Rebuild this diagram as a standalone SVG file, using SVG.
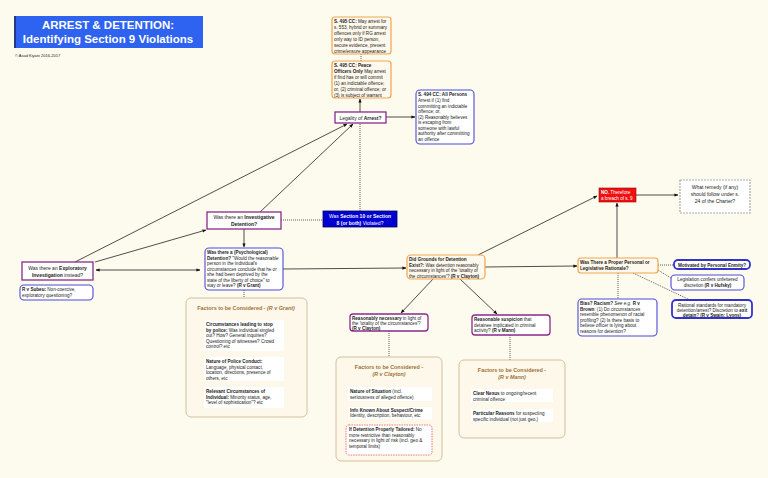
<svg xmlns="http://www.w3.org/2000/svg" width="768" height="478" viewBox="0 0 768 478">
<defs>
<marker id="ah" viewBox="0 0 10 10" refX="9" refY="5" markerWidth="5" markerHeight="5" orient="auto-start-reverse"><path d="M0,1 L10,5 L0,9 z" fill="#111"/></marker>
<style>
text{font-family:"Liberation Sans",Arial,sans-serif;font-size:4.6px;fill:#222}
.b{font-weight:bold}
.i{font-style:italic}
.or{fill:#fff8ec;stroke:#f0a550;stroke-width:1.2}
.pu{fill:#fff;stroke:#8a2a8a;stroke-width:1.3}
.bl{fill:#fff;stroke:#4a4ad8;stroke-width:1.1}
.blt{fill:#fff;stroke:#3333cc;stroke-width:1.8}
.tan{fill:#fdf8ea;stroke:#c8b48a;stroke-width:0.8}
.ftitle{font-size:5.4px;fill:#a07038;font-weight:bold;text-anchor:middle}
.inner{fill:#fff;stroke:none}
.c{text-anchor:middle}
.ln{stroke:#222;stroke-width:0.8;fill:none}
.ar{stroke:#222;stroke-width:0.8;fill:none;marker-end:url(#ah)}
.dt{stroke:#333;stroke-width:0.8;fill:none;stroke-dasharray:1,1}
</style>
</defs>
<rect width="768" height="478" fill="#fdfbee"/>
<g id="title">
<rect x="14" y="16" width="189" height="32" fill="#2e62f0"/>
<rect x="14" y="16" width="2" height="32" fill="#223a80"/>
<text x="108" y="29" class="c b" style="font-size:11.5px;fill:#fff">ARREST &amp; DETENTION:</text>
<text x="108" y="43" class="c b" style="font-size:11.5px;fill:#fff">Identifying Section 9 Violations</text>
<text x="15" y="57" style="font-size:4px">© Asad Kiyani 2016-2017</text>
</g>
<g id="connectors">
<line class="dt" x1="361" y1="54" x2="361" y2="61"/>
<line class="ar" x1="360" y1="112" x2="360" y2="99"/>
<line class="ar" x1="386" y1="117" x2="415" y2="117"/>
<line class="ar" x1="75" y1="262" x2="347" y2="124"/>
<line class="ar" x1="260" y1="212" x2="353" y2="124"/>
<line class="ar" x1="95" y1="262" x2="206" y2="230"/>
<line class="dt" x1="360" y1="211" x2="360" y2="123"/>
<line class="dt" x1="281" y1="220" x2="323" y2="220"/>
<line class="ar" x1="244" y1="229" x2="244" y2="247"/>
<line class="ar" x1="200" y1="270" x2="96" y2="270" style="marker-start:url(#ah)"/>
<line class="ar" x1="283" y1="269" x2="406" y2="268"/>
<line class="dt" x1="244" y1="290" x2="244" y2="298"/>
<line class="ar" x1="433" y1="279" x2="401" y2="313"/>
<line class="ar" x1="460" y1="279" x2="497" y2="314"/>
<line class="ar" x1="478" y1="255" x2="597" y2="196"/>
<line class="ar" x1="485" y1="267" x2="577" y2="266"/>
<line class="ar" x1="617" y1="258" x2="617" y2="203"/>
<line class="ar" x1="636" y1="195" x2="678" y2="195"/>
<line class="dt" x1="658" y1="265" x2="674" y2="265"/>
<line class="dt" x1="658" y1="270" x2="674" y2="280"/>
<line class="dt" x1="633" y1="273" x2="690" y2="300"/>
<line class="dt" x1="618" y1="273" x2="618" y2="299"/>
<line class="dt" x1="389" y1="331" x2="389" y2="357"/>
<line class="dt" x1="510" y1="335" x2="510" y2="360"/>
</g>
<g id="s495">
<rect class="or" x="332" y="17" width="59" height="37" rx="3"/>
<text x="334" y="23"><tspan class="b">S. 495 CC:</tspan> May arrest for</text>
<text x="334" y="29">s. 553, hybrid or summary</text>
<text x="334" y="35">offences only if RG arrest</text>
<text x="334" y="41">only way to ID person,</text>
<text x="334" y="47">secure evidence, prevent</text>
<text x="334" y="53">crime/ensure appearance</text>
</g>
<g id="s495peace">
<rect class="or" x="332" y="61" width="59" height="37" rx="3"/>
<text x="334" y="67" class="b">S. 495 CC: Peace</text>
<text x="334" y="73"><tspan class="b">Officers Only</tspan> May arrest</text>
<text x="334" y="79">if find has or will commit</text>
<text x="334" y="85">(1) an indictable offence;</text>
<text x="334" y="91">or, (2) criminal offence; or</text>
<text x="334" y="97">(3) is subject of warrant</text>
</g>
<g id="legality">
<rect class="pu" x="335" y="112" width="51" height="11"/>
<text x="360.5" y="119.5" class="c" style="font-size:5px">Legality of <tspan class="b">Arrest?</tspan></text>
</g>
<g id="s494">
<rect class="bl" x="416" y="90" width="58" height="54" rx="4"/>
<text x="418" y="96" class="b">S. 494 CC: All Persons</text>
<text x="418" y="102">Arrest if (1) find</text>
<text x="418" y="107.5">committing an indictable</text>
<text x="418" y="113">offence; or,</text>
<text x="418" y="118.5">(2) Reasonably believes</text>
<text x="418" y="124">is escaping from</text>
<text x="418" y="129.5">someone with lawful</text>
<text x="418" y="135">authority after committing</text>
<text x="418" y="140.5">an offence</text>
</g>
<g id="investigative">
<rect class="pu" x="207" y="212" width="74" height="17"/>
<text x="244" y="219" class="c" style="font-size:5px">Was there an <tspan class="b">Investigative</tspan></text>
<text x="244" y="226" class="c b" style="font-size:5px">Detention?</text>
</g>
<g id="section10">
<rect x="323" y="211" width="74" height="16" fill="#0000d0" stroke="#000060" stroke-width="0.8"/>
<text x="360" y="218" class="c" style="font-size:5px;fill:#fff">Was <tspan class="b">Section 10 or Section</tspan></text>
<text x="360" y="225" class="c" style="font-size:5px;fill:#fff"><tspan class="b">8 (or both)</tspan> Violated?</text>
</g>
<g id="exploratory">
<rect class="pu" x="22" y="262" width="71" height="18"/>
<text x="57.5" y="269.5" class="c" style="font-size:5px">Was there an <tspan class="b">Exploratory</tspan></text>
<text x="57.5" y="276.5" class="c" style="font-size:5px"><tspan class="b">Investigation</tspan> instead?</text>
</g>
<g id="subeu">
<rect class="bl" x="20" y="285" width="73" height="15" rx="4"/>
<text x="22" y="291"><tspan class="b">R v Subeu:</tspan> Non-coercive,</text>
<text x="22" y="297">exploratory questioning?</text>
</g>
<g id="psychological">
<rect class="bl" x="205" y="248" width="78" height="42" rx="4"/>
<text x="207" y="254" class="b">Was there a (Psychological)</text>
<text x="207" y="259.5"><tspan class="b">Detention?</tspan> "Would the reasonable</text>
<text x="207" y="265">person in the individual's</text>
<text x="207" y="270.5">circumstances conclude that he or</text>
<text x="207" y="276">she had been deprived by the</text>
<text x="207" y="281.5">state of the liberty of choice" to</text>
<text x="207" y="287">stay or leave? <tspan class="b">(R v Grant)</tspan></text>
</g>
<g id="factorsGrant">
<rect class="tan" x="186" y="298" width="121" height="119" rx="5"/>
<text x="246" y="310" class="ftitle">Factors to be Considered - <tspan class="i">(R v Grant)</tspan></text>
<rect class="inner" x="204" y="320" width="80" height="31"/>
<text x="206" y="326" class="b">Circumstances leading to stop</text>
<text x="206" y="331.5"><tspan class="b">by police:</tspan> Was individual singled</text>
<text x="206" y="337">out? How? General inquiries?</text>
<text x="206" y="342.5">Questioning of witnesses? Crowd</text>
<text x="206" y="348">control? etc</text>
<rect class="inner" x="204" y="357" width="80" height="24"/>
<text x="206" y="363" class="b">Nature of Police Conduct:</text>
<text x="206" y="368.5">Language, physical contact,</text>
<text x="206" y="374">location, directions, presence of</text>
<text x="206" y="379.5">others, etc</text>
<rect class="inner" x="204" y="387" width="80" height="21"/>
<text x="206" y="393" class="b">Relevant Circumstances of</text>
<text x="206" y="398.5"><tspan class="b">Individual:</tspan> Minority status, age,</text>
<text x="206" y="404">"level of sophistication"? etc</text>
</g>
<g id="didgrounds">
<rect class="or" x="407" y="255" width="78" height="24" rx="4"/>
<text x="409" y="261" class="b">Did Grounds for Detention</text>
<text x="409" y="266.5"><tspan class="b">Exist?:</tspan> Was detention reasonably</text>
<text x="409" y="272">necessary in light of the 'totality of</text>
<text x="409" y="277.5">the circumstances'? <tspan class="b">(R v Clayton)</tspan></text>
</g>
<g id="necessary">
<rect class="pu" x="350" y="314" width="78" height="17" rx="3"/>
<text x="352" y="320"><tspan class="b">Reasonably necessary</tspan> in light of</text>
<text x="352" y="325">the 'totality of the circumstances'?</text>
<text x="352" y="330" class="b">(R v Clayton)</text>
</g>
<g id="factorsClayton">
<rect class="tan" x="336" y="357" width="106" height="104" rx="5"/>
<text x="389" y="369" class="ftitle">Factors to be Considered -</text>
<text x="389" y="376" class="ftitle i">(R v Clayton)</text>
<rect class="inner" x="348" y="387" width="84" height="14"/>
<text x="350" y="393"><tspan class="b">Nature of Situation</tspan> (incl.</text>
<text x="350" y="398.5">seriousness of alleged offence)</text>
<rect class="inner" x="348" y="407" width="84" height="12"/>
<text x="350" y="412" class="b">Info Known About Suspect/Crime</text>
<text x="350" y="417">Identity, description, behaviour, etc</text>
<rect x="346" y="425" width="86" height="30" rx="3" fill="#fff" stroke="#e04040" stroke-width="0.7" stroke-dasharray="1.5,1"/>
<text x="349" y="431"><tspan class="b">If Detention Properly Tailored:</tspan> No</text>
<text x="349" y="436.5">more restrictive than reasonably</text>
<text x="349" y="442">necessary in light of risk (incl. geo &amp;</text>
<text x="349" y="447.5">temporal limits)</text>
</g>
<g id="suspicion">
<rect class="pu" x="472" y="315" width="78" height="20" rx="3"/>
<text x="474" y="321"><tspan class="b">Reasonable suspicion</tspan> that</text>
<text x="474" y="326.5">detainee implicated in criminal</text>
<text x="474" y="332">activity? <tspan class="b">(R v Mann)</tspan></text>
</g>
<g id="factorsMann">
<rect class="tan" x="459" y="360" width="106" height="78" rx="5"/>
<text x="512" y="372" class="ftitle">Factors to be Considered -</text>
<text x="512" y="379" class="ftitle i">(R v Mann)</text>
<rect class="inner" x="471" y="389" width="82" height="13"/>
<text x="473" y="395"><tspan class="b">Clear Nexus</tspan> to ongoing/recent</text>
<text x="473" y="400.5">criminal offence</text>
<rect class="inner" x="471" y="409" width="82" height="13"/>
<text x="473" y="415"><tspan class="b">Particular Reasons</tspan> for suspecting</text>
<text x="473" y="420.5">specific individual (not just geo.)</text>
</g>
<g id="proper">
<rect class="or" x="578" y="258" width="80" height="15" rx="3"/>
<text x="580" y="264" class="b">Was There a Proper Personal or</text>
<text x="580" y="270" class="b">Legislative Rationale?</text>
</g>
<g id="motivated">
<rect class="blt" x="674" y="260" width="76" height="9" rx="4"/>
<text x="712" y="266.5" class="c b">Motivated by Personal Enmity?</text>
</g>
<g id="legislation">
<rect class="bl" x="671" y="275" width="73" height="15" rx="4"/>
<text x="707.5" y="281" class="c">Legislation confers unfettered</text>
<text x="707.5" y="287" class="c">discretion <tspan class="b">(R v Hufsky)</tspan></text>
</g>
<g id="rational">
<rect class="blt" x="672" y="300" width="80" height="18" rx="4"/>
<text x="712" y="306.5" class="c">Rational standards for mandatory</text>
<text x="712" y="311.5" class="c">detention/arrest? Discretion to <tspan class="b">exit</tspan></text>
<text x="712" y="316.5" class="c"><tspan class="b">detain</tspan>? <tspan class="b">(R v Swain; Lyons)</tspan></text>
</g>
<g id="bias">
<rect class="bl" x="578" y="299" width="79" height="37" rx="4"/>
<text x="580" y="305"><tspan class="b">Bias? Racism?</tspan> <tspan class="i">See e.g.</tspan> <tspan class="b">R v</tspan></text>
<text x="580" y="310.5"><tspan class="b">Brown</tspan>: (1) Do circumstances</text>
<text x="580" y="316">resemble phenomenon of racial</text>
<text x="580" y="321.5">profiling? (2) Is there basis to</text>
<text x="580" y="327">believe officer is lying about</text>
<text x="580" y="332.5">reasons for detention?</text>
</g>
<g id="no">
<rect x="599" y="188" width="37" height="14" fill="#f01010" stroke="#900" stroke-width="0.6"/>
<text x="601" y="194" style="fill:#fff"><tspan class="b">NO.</tspan> Therefore</text>
<text x="601" y="200" style="fill:#fff">a breach of s. 9</text>
</g>
<g id="remedy">
<rect x="680" y="180" width="70" height="33" fill="#fff" stroke="#aaa" stroke-width="1.2" stroke-dasharray="2,1"/>
<text x="715" y="189" class="c" style="font-size:5px">What remedy (if any)</text>
<text x="715" y="196" class="c" style="font-size:5px">should follow under s.</text>
<text x="715" y="203" class="c" style="font-size:5px">24 of the Charter?</text>
</g>
</svg>
